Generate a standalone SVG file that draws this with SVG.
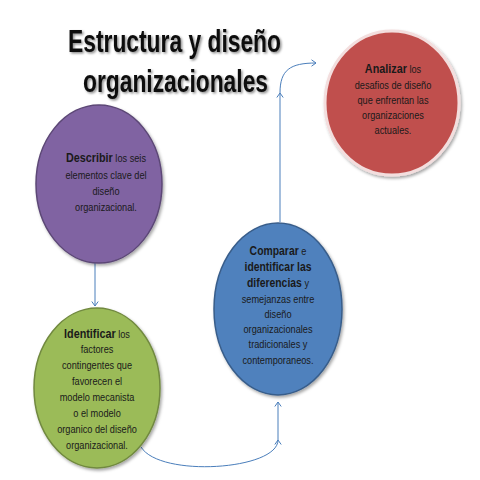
<svg xmlns="http://www.w3.org/2000/svg" width="480" height="480" viewBox="0 0 480 480">
<defs>
<filter id="sh" x="-20%" y="-20%" width="140%" height="140%">
<feDropShadow dx="1.5" dy="2" stdDeviation="1.8" flood-color="#000" flood-opacity="0.35"/>
</filter>
<filter id="tsh" x="-10%" y="-20%" width="120%" height="140%">
<feDropShadow dx="1.5" dy="1.5" stdDeviation="1.2" flood-color="#000" flood-opacity="0.45"/>
</filter>
<marker id="ah" markerUnits="userSpaceOnUse" markerWidth="10" markerHeight="10" refX="0" refY="0" viewBox="-6 -5 8 10" orient="auto" overflow="visible">
<path d="M-4.5,-3.2 L0,0 L-4.5,3.2" fill="none" stroke="#4a7ebb" stroke-width="1"/>
</marker>
</defs>
<style>
.t{font-family:"Liberation Sans",Arial,sans-serif;font-size:11.5px;fill:#1a1a1a;text-anchor:middle}
.b{font-weight:bold;font-size:13.5px}
.bb{font-weight:bold;font-size:13px}
.ttl{font-family:"Liberation Sans",Arial,sans-serif;font-weight:bold;font-size:31px;fill:#111}
.c{fill:none;stroke:#4a7ebb;stroke-width:1}
</style>
<rect width="480" height="480" fill="#fff"/>
<g id="title" filter="url(#tsh)">
<text class="ttl" x="68" y="52" textLength="213" lengthAdjust="spacingAndGlyphs">Estructura y diseño</text>
<text class="ttl" x="83" y="92" textLength="185" lengthAdjust="spacingAndGlyphs">organizacionales</text>
</g>
<g id="connectors">
<path class="c" d="M95,263 L95,306" marker-end="url(#ah)"/>
<path class="c" d="M141,447 C160,478 278,470 278,440 L278,402" marker-mid="url(#ah)" marker-end="url(#ah)"/>
<path class="c" d="M280,222 L280,93 C280,70 290,63 316,63" marker-mid="url(#ah)" marker-end="url(#ah)"/>
</g>
<g id="describir">
<ellipse cx="99" cy="184" rx="63" ry="79" fill="#8064a2" stroke="#5c4776" stroke-width="1.5" filter="url(#sh)"/>
<g transform="translate(106,0) scale(0.8,1)">
<text class="t" x="0" y="162"><tspan class="b">Describir</tspan> los seis</text>
<text class="t" x="0" y="179">elementos clave del</text>
<text class="t" x="0" y="195">diseño</text>
<text class="t" x="0" y="211">organizacional.</text>
</g>
</g>
<g id="identificar">
<ellipse cx="97" cy="388" rx="63" ry="80" fill="#9bbb59" stroke="#71893f" stroke-width="1.5" filter="url(#sh)"/>
<g transform="translate(97,0) scale(0.8,1)">
<text class="t" x="0" y="338"><tspan class="b">Identificar</tspan> los</text>
<text class="t" x="0" y="353">factores</text>
<text class="t" x="0" y="369">contingentes que</text>
<text class="t" x="0" y="385">favorecen el</text>
<text class="t" x="0" y="401">modelo mecanista</text>
<text class="t" x="0" y="417">o el modelo</text>
<text class="t" x="0" y="433">organico del diseño</text>
<text class="t" x="0" y="449">organizacional.</text>
</g>
</g>
<g id="comparar">
<ellipse cx="278" cy="309" rx="64" ry="86" fill="#4f81bd" stroke="#385d8a" stroke-width="1.5" filter="url(#sh)"/>
<g transform="translate(278,0) scale(0.8,1)">
<text class="t" x="0" y="255"><tspan class="bb">Comparar</tspan> e</text>
<text class="t" x="0" y="271"><tspan class="bb">identificar las</tspan></text>
<text class="t" x="0" y="287"><tspan class="bb">diferencias</tspan>  y</text>
<text class="t" x="0" y="303">semejanzas entre</text>
<text class="t" x="0" y="318">diseño</text>
<text class="t" x="0" y="333">organizacionales</text>
<text class="t" x="0" y="348">tradicionales y</text>
<text class="t" x="0" y="364">contemporaneos.</text>
</g>
</g>
<g id="analizar">
<ellipse cx="392" cy="103" rx="67" ry="72" fill="#c0504d" stroke="#f3dede" stroke-width="3" filter="url(#sh)"/>
<g transform="translate(393,0) scale(0.8,1)">
<text class="t" x="0" y="73"><tspan class="b">Analizar</tspan> los</text>
<text class="t" x="0" y="89">desafios de diseño</text>
<text class="t" x="0" y="104">que enfrentan las</text>
<text class="t" x="0" y="119">organizaciones</text>
<text class="t" x="0" y="134">actuales.</text>
</g>
</g>
</svg>
